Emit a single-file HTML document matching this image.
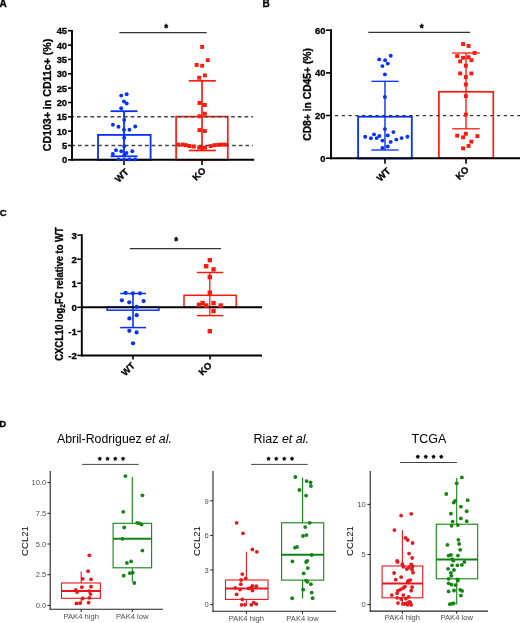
<!DOCTYPE html>
<html><head><meta charset="utf-8"><title>Figure</title>
<style>
html,body{margin:0;padding:0;background:#fff;}
body{width:520px;height:623px;overflow:hidden;}
svg{display:block;filter:blur(0.3px);font-family:"Liberation Sans",Arial,Helvetica,sans-serif;}
</style></head><body>
<svg width="520" height="623" viewBox="0 0 520 623">
<rect width="520" height="623" fill="#fff"/>
<text x="-0.6" y="7.2" font-size="10" text-anchor="start" font-weight="bold" fill="#000" stroke="#000" stroke-width="0.3">A</text>
<text x="262.5" y="7.2" font-size="10" text-anchor="start" font-weight="bold" fill="#000" stroke="#000" stroke-width="0.3">B</text>
<text x="-0.2" y="216.4" font-size="9.6" text-anchor="start" font-weight="bold" fill="#000" stroke="#000" stroke-width="0.3">C</text>
<text x="-0.7" y="426.5" font-size="9.6" text-anchor="start" font-weight="bold" fill="#000" stroke="#000" stroke-width="0.3">D</text>
<rect x="98" y="134.9" width="52.6" height="24.9" fill="none" stroke="#0530ff" stroke-width="1.8"/>
<rect x="176.1" y="116.6" width="51.7" height="43.2" fill="none" stroke="#ff1a0d" stroke-width="1.7"/>
<line x1="124" y1="111.2" x2="124" y2="156.3" stroke="#0530ff" stroke-width="1.8"/>
<line x1="110.6" y1="111.2" x2="137.5" y2="111.2" stroke="#0530ff" stroke-width="1.8"/>
<line x1="110.6" y1="156.3" x2="137.5" y2="156.3" stroke="#0530ff" stroke-width="1.8"/>
<line x1="202" y1="80.8" x2="202" y2="150.5" stroke="#ff1a0d" stroke-width="1.7"/>
<line x1="188.8" y1="80.8" x2="215.8" y2="80.8" stroke="#ff1a0d" stroke-width="1.7"/>
<line x1="188.8" y1="150.5" x2="215.8" y2="150.5" stroke="#ff1a0d" stroke-width="1.7"/>
<line x1="72.0" y1="116.7" x2="253" y2="116.7" stroke="#444" stroke-width="1.5" stroke-dasharray="3.7 3" stroke-dashoffset="1.7"/>
<line x1="72.0" y1="145.5" x2="253" y2="145.5" stroke="#444" stroke-width="1.5" stroke-dasharray="3.7 3" stroke-dashoffset="0.7"/>
<line x1="72.0" y1="30.0" x2="72.0" y2="160.84" stroke="#000" stroke-width="1.9"/>
<line x1="71.1" y1="159.84" x2="254.2" y2="159.84" stroke="#000" stroke-width="2"/>
<line x1="68" y1="159.8" x2="72.0" y2="159.8" stroke="#000" stroke-width="1.6"/>
<text x="67.1" y="163.20000000000002" font-size="9.4" text-anchor="end" font-weight="bold" fill="#000" stroke="#000" stroke-width="0.3">0</text>
<line x1="68" y1="145.5" x2="72.0" y2="145.5" stroke="#000" stroke-width="1.6"/>
<text x="67.1" y="148.9" font-size="9.4" text-anchor="end" font-weight="bold" fill="#000" stroke="#000" stroke-width="0.3">5</text>
<line x1="68" y1="131.2" x2="72.0" y2="131.2" stroke="#000" stroke-width="1.6"/>
<text x="67.1" y="134.6" font-size="9.4" text-anchor="end" font-weight="bold" fill="#000" stroke="#000" stroke-width="0.3">10</text>
<line x1="68" y1="116.8" x2="72.0" y2="116.8" stroke="#000" stroke-width="1.6"/>
<text x="67.1" y="120.2" font-size="9.4" text-anchor="end" font-weight="bold" fill="#000" stroke="#000" stroke-width="0.3">15</text>
<line x1="68" y1="102.5" x2="72.0" y2="102.5" stroke="#000" stroke-width="1.6"/>
<text x="67.1" y="105.9" font-size="9.4" text-anchor="end" font-weight="bold" fill="#000" stroke="#000" stroke-width="0.3">20</text>
<line x1="68" y1="88.1" x2="72.0" y2="88.1" stroke="#000" stroke-width="1.6"/>
<text x="67.1" y="91.5" font-size="9.4" text-anchor="end" font-weight="bold" fill="#000" stroke="#000" stroke-width="0.3">25</text>
<line x1="68" y1="73.8" x2="72.0" y2="73.8" stroke="#000" stroke-width="1.6"/>
<text x="67.1" y="77.2" font-size="9.4" text-anchor="end" font-weight="bold" fill="#000" stroke="#000" stroke-width="0.3">30</text>
<line x1="68" y1="59.4" x2="72.0" y2="59.4" stroke="#000" stroke-width="1.6"/>
<text x="67.1" y="62.8" font-size="9.4" text-anchor="end" font-weight="bold" fill="#000" stroke="#000" stroke-width="0.3">35</text>
<line x1="68" y1="45.1" x2="72.0" y2="45.1" stroke="#000" stroke-width="1.6"/>
<text x="67.1" y="48.5" font-size="9.4" text-anchor="end" font-weight="bold" fill="#000" stroke="#000" stroke-width="0.3">40</text>
<line x1="68" y1="30.7" x2="72.0" y2="30.7" stroke="#000" stroke-width="1.6"/>
<text x="67.1" y="34.1" font-size="9.4" text-anchor="end" font-weight="bold" fill="#000" stroke="#000" stroke-width="0.3">45</text>
<line x1="124" y1="159.84" x2="124" y2="164.9" stroke="#000" stroke-width="1.6"/>
<line x1="202" y1="159.84" x2="202" y2="164.9" stroke="#000" stroke-width="1.6"/>
<text x="129.3" y="172.6" font-size="9.5" text-anchor="end" font-weight="bold" fill="#000" stroke="#000" stroke-width="0.3" transform="rotate(-45 129.3 172.6)">WT</text>
<text x="206.4" y="171.2" font-size="9.5" text-anchor="end" font-weight="bold" fill="#000" stroke="#000" stroke-width="0.3" transform="rotate(-45 206.4 171.2)">KO</text>
<text x="51.0" y="95.0" font-size="10.6" text-anchor="middle" font-weight="bold" fill="#000" stroke="#000" stroke-width="0.3" transform="rotate(-90 51.0 95.0)">CD103+ in CD11c+ (%)</text>
<line x1="119.4" y1="32.6" x2="206.7" y2="32.6" stroke="#333" stroke-width="1.25"/>
<text x="166.2" y="32.0" font-size="10" text-anchor="middle" font-weight="bold" fill="#000" stroke="#000" stroke-width="0.4">*</text>
<rect x="358.1" y="116.7" width="53.7" height="41.8" fill="none" stroke="#0530ff" stroke-width="1.8"/>
<rect x="438.9" y="91.8" width="54.4" height="66.4" fill="none" stroke="#ff1a0d" stroke-width="1.7"/>
<line x1="385" y1="81.3" x2="385" y2="150" stroke="#0530ff" stroke-width="1.4"/>
<line x1="371.3" y1="81.3" x2="398.6" y2="81.3" stroke="#0530ff" stroke-width="1.3"/>
<line x1="371.3" y1="150" x2="398.6" y2="150" stroke="#0530ff" stroke-width="1.3"/>
<line x1="466" y1="53" x2="466" y2="128.8" stroke="#ff1a0d" stroke-width="1.4"/>
<line x1="452.2" y1="53" x2="479.8" y2="53" stroke="#ff1a0d" stroke-width="1.3"/>
<line x1="452.2" y1="128.8" x2="479.8" y2="128.8" stroke="#ff1a0d" stroke-width="1.3"/>
<line x1="331.0" y1="115.7" x2="520" y2="115.7" stroke="#333" stroke-width="1.3" stroke-dasharray="3.2 3.55" stroke-dashoffset="2.75"/>
<line x1="331.0" y1="29.3" x2="331.0" y2="159.2" stroke="#000" stroke-width="1.9"/>
<line x1="330.1" y1="158.2" x2="520" y2="158.2" stroke="#000" stroke-width="2"/>
<line x1="326" y1="158.2" x2="331.0" y2="158.2" stroke="#000" stroke-width="1.6"/>
<text x="325.4" y="161.6" font-size="9.4" text-anchor="end" font-weight="bold" fill="#000" stroke="#000" stroke-width="0.3">0</text>
<line x1="326" y1="115.5" x2="331.0" y2="115.5" stroke="#000" stroke-width="1.6"/>
<text x="325.4" y="118.9" font-size="9.4" text-anchor="end" font-weight="bold" fill="#000" stroke="#000" stroke-width="0.3">20</text>
<line x1="326" y1="72.9" x2="331.0" y2="72.9" stroke="#000" stroke-width="1.6"/>
<text x="325.4" y="76.30000000000001" font-size="9.4" text-anchor="end" font-weight="bold" fill="#000" stroke="#000" stroke-width="0.3">40</text>
<line x1="326" y1="30.2" x2="331.0" y2="30.2" stroke="#000" stroke-width="1.6"/>
<text x="325.4" y="33.6" font-size="9.4" text-anchor="end" font-weight="bold" fill="#000" stroke="#000" stroke-width="0.3">60</text>
<line x1="385" y1="158.2" x2="385" y2="163.8" stroke="#000" stroke-width="1.6"/>
<line x1="466" y1="158.2" x2="466" y2="163.8" stroke="#000" stroke-width="1.6"/>
<text x="391" y="171.6" font-size="9.5" text-anchor="end" font-weight="bold" fill="#000" stroke="#000" stroke-width="0.3" transform="rotate(-45 391 171.6)">WT</text>
<text x="469.6" y="170.4" font-size="9.5" text-anchor="end" font-weight="bold" fill="#000" stroke="#000" stroke-width="0.3" transform="rotate(-45 469.6 170.4)">KO</text>
<text x="311" y="94.4" font-size="10.3" text-anchor="middle" font-weight="bold" fill="#000" stroke="#000" stroke-width="0.3" transform="rotate(-90 311 94.4)">CD8+ in CD45+ (%)</text>
<line x1="368.3" y1="32.4" x2="470.2" y2="32.4" stroke="#333" stroke-width="1.25"/>
<text x="421.7" y="32.3" font-size="10" text-anchor="middle" font-weight="bold" fill="#000" stroke="#000" stroke-width="0.4">*</text>
<rect x="107.2" y="307.3" width="51.6" height="2.9" fill="none" stroke="#0530ff" stroke-width="1.5"/>
<rect x="184" y="295.3" width="52.2" height="12.0" fill="none" stroke="#ff1a0d" stroke-width="1.5"/>
<line x1="133" y1="293.5" x2="133" y2="327.6" stroke="#0530ff" stroke-width="1.6"/>
<line x1="120.2" y1="293.5" x2="146" y2="293.5" stroke="#0530ff" stroke-width="1.5"/>
<line x1="120.2" y1="327.6" x2="146" y2="327.6" stroke="#0530ff" stroke-width="1.5"/>
<line x1="209.8" y1="272.5" x2="209.8" y2="315.6" stroke="#ff1a0d" stroke-width="1.3"/>
<line x1="196.8" y1="272.5" x2="223.1" y2="272.5" stroke="#ff1a0d" stroke-width="1.5"/>
<line x1="196.8" y1="315.6" x2="223.1" y2="315.6" stroke="#ff1a0d" stroke-width="1.5"/>
<line x1="81.8" y1="234.2" x2="81.8" y2="356.40000000000003" stroke="#000" stroke-width="1.9"/>
<line x1="80.89999999999999" y1="307.3" x2="262" y2="307.3" stroke="#000" stroke-width="2"/>
<line x1="80.89999999999999" y1="355.4" x2="262" y2="355.4" stroke="#000" stroke-width="2"/>
<line x1="77.3" y1="235.2" x2="81.8" y2="235.2" stroke="#000" stroke-width="1.5"/>
<text x="76.9" y="238.6" font-size="9.7" text-anchor="end" font-weight="bold" fill="#000" stroke="#000" stroke-width="0.3">3</text>
<line x1="77.3" y1="259.2" x2="81.8" y2="259.2" stroke="#000" stroke-width="1.5"/>
<text x="76.9" y="262.59999999999997" font-size="9.7" text-anchor="end" font-weight="bold" fill="#000" stroke="#000" stroke-width="0.3">2</text>
<line x1="77.3" y1="283.2" x2="81.8" y2="283.2" stroke="#000" stroke-width="1.5"/>
<text x="76.9" y="286.59999999999997" font-size="9.7" text-anchor="end" font-weight="bold" fill="#000" stroke="#000" stroke-width="0.3">1</text>
<line x1="77.3" y1="307.3" x2="81.8" y2="307.3" stroke="#000" stroke-width="1.5"/>
<text x="76.9" y="310.7" font-size="9.7" text-anchor="end" font-weight="bold" fill="#000" stroke="#000" stroke-width="0.3">0</text>
<line x1="77.3" y1="331.4" x2="81.8" y2="331.4" stroke="#000" stroke-width="1.5"/>
<text x="76.9" y="334.79999999999995" font-size="9.7" text-anchor="end" font-weight="bold" fill="#000" stroke="#000" stroke-width="0.3">-1</text>
<line x1="77.3" y1="355.4" x2="81.8" y2="355.4" stroke="#000" stroke-width="1.5"/>
<text x="76.9" y="358.79999999999995" font-size="9.7" text-anchor="end" font-weight="bold" fill="#000" stroke="#000" stroke-width="0.3">-2</text>
<line x1="133" y1="355.40000000000003" x2="133" y2="359.5" stroke="#000" stroke-width="1.6"/>
<line x1="210" y1="355.40000000000003" x2="210" y2="359.5" stroke="#000" stroke-width="1.6"/>
<text x="135.6" y="366.2" font-size="9.3" text-anchor="end" font-weight="bold" fill="#000" stroke="#000" stroke-width="0.3" transform="rotate(-45 135.6 366.2)">WT</text>
<text x="212.6" y="366" font-size="9.5" text-anchor="end" font-weight="bold" fill="#000" stroke="#000" stroke-width="0.3" transform="rotate(-45 212.6 366)">KO</text>
<text x="62.6" y="294" font-size="10" text-anchor="middle" font-weight="bold" textLength="133.5" lengthAdjust="spacingAndGlyphs" stroke="#000" stroke-width="0.3" transform="rotate(-90 62.6 294)">CXCL10 log<tspan font-size="6.8" dy="2.5">2</tspan><tspan dy="-2.5">FC relative to WT</tspan></text>
<line x1="129.8" y1="248.6" x2="220.9" y2="248.6" stroke="#333" stroke-width="1.25"/>
<text x="176.1" y="244.8" font-size="10" text-anchor="middle" font-weight="bold" fill="#000" stroke="#000" stroke-width="0.4">*</text>
<text x="57" y="442.8" font-size="12.3" fill="#000">Abril-Rodriguez <tspan font-style="italic">et al.</tspan></text>
<line x1="82.2" y1="464.4" x2="138.6" y2="464.4" stroke="#444" stroke-width="1.0"/>
<text x="98.1" y="463.2" font-size="9.2" letter-spacing="4.12" fill="#000" stroke="#000" stroke-width="0.7" stroke-linejoin="round">****</text>
<line x1="81.2" y1="571.5" x2="81.2" y2="583" stroke="#e8171c" stroke-width="1.1"/>
<line x1="81.2" y1="598.3" x2="81.2" y2="603.5" stroke="#e8171c" stroke-width="1.1"/>
<rect x="61.5" y="583" width="38.9" height="15.3" fill="#fff" fill-opacity="0" stroke="#e8171c" stroke-width="1.1"/>
<line x1="61.5" y1="591.1" x2="100.4" y2="591.1" stroke="#e8171c" stroke-width="2.0"/>
<line x1="132.3" y1="476.9" x2="132.3" y2="523.3" stroke="#128412" stroke-width="1.1"/>
<line x1="132.3" y1="567.8" x2="132.3" y2="581.8" stroke="#128412" stroke-width="1.1"/>
<rect x="113.1" y="523.3" width="38.5" height="44.5" fill="#fff" fill-opacity="0" stroke="#128412" stroke-width="1.1"/>
<line x1="113.1" y1="538.8" x2="151.6" y2="538.8" stroke="#128412" stroke-width="2.0"/>
<line x1="50.2" y1="471.0" x2="50.2" y2="609.8" stroke="#222" stroke-width="1.1"/>
<line x1="49.7" y1="609.3" x2="163" y2="609.3" stroke="#222" stroke-width="1.1"/>
<line x1="47.400000000000006" y1="605.4" x2="50.2" y2="605.4" stroke="#222" stroke-width="1.0"/>
<text x="46.3" y="608.1" font-size="7.6" text-anchor="end" font-weight="normal" fill="#4d4d4d">0.0</text>
<line x1="47.400000000000006" y1="574.7" x2="50.2" y2="574.7" stroke="#222" stroke-width="1.0"/>
<text x="46.3" y="577.4000000000001" font-size="7.6" text-anchor="end" font-weight="normal" fill="#4d4d4d">2.5</text>
<line x1="47.400000000000006" y1="544.0" x2="50.2" y2="544.0" stroke="#222" stroke-width="1.0"/>
<text x="46.3" y="546.7" font-size="7.6" text-anchor="end" font-weight="normal" fill="#4d4d4d">5.0</text>
<line x1="47.400000000000006" y1="513.3" x2="50.2" y2="513.3" stroke="#222" stroke-width="1.0"/>
<text x="46.3" y="516.0" font-size="7.6" text-anchor="end" font-weight="normal" fill="#4d4d4d">7.5</text>
<line x1="47.400000000000006" y1="482.6" x2="50.2" y2="482.6" stroke="#222" stroke-width="1.0"/>
<text x="46.3" y="485.3" font-size="7.6" text-anchor="end" font-weight="normal" fill="#4d4d4d">10.0</text>
<line x1="81.2" y1="609.3" x2="81.2" y2="612.0" stroke="#222" stroke-width="1.0"/>
<line x1="132.3" y1="609.3" x2="132.3" y2="612.0" stroke="#222" stroke-width="1.0"/>
<text x="81.2" y="618.8" font-size="7.6" text-anchor="middle" fill="#4d4d4d">PAK4 high</text>
<text x="132.3" y="618.8" font-size="7.6" text-anchor="middle" fill="#4d4d4d">PAK4 low</text>
<text x="27.9" y="541" font-size="9.6" text-anchor="middle" fill="#000" transform="rotate(-90 27.9 541)">CCL21</text>
<text x="253.4" y="442.8" font-size="12.5" fill="#000">Riaz <tspan font-style="italic">et al.</tspan></text>
<line x1="251.1" y1="464.4" x2="307.7" y2="464.4" stroke="#444" stroke-width="1.0"/>
<text x="266.8" y="463.1" font-size="9.2" letter-spacing="4.25" fill="#000" stroke="#000" stroke-width="0.7" stroke-linejoin="round">****</text>
<line x1="246.4" y1="551.8" x2="246.4" y2="580" stroke="#e8171c" stroke-width="1.1"/>
<line x1="246.4" y1="599.4" x2="246.4" y2="604.5" stroke="#e8171c" stroke-width="1.1"/>
<rect x="225.5" y="580" width="42.5" height="19.4" fill="#fff" fill-opacity="0" stroke="#e8171c" stroke-width="1.1"/>
<line x1="225.5" y1="588.4" x2="268" y2="588.4" stroke="#e8171c" stroke-width="2.0"/>
<line x1="302.5" y1="477.5" x2="302.5" y2="522.8" stroke="#128412" stroke-width="1.1"/>
<line x1="302.5" y1="580.1" x2="302.5" y2="598.6" stroke="#128412" stroke-width="1.1"/>
<rect x="281.6" y="522.8" width="42.1" height="57.3" fill="#fff" fill-opacity="0" stroke="#128412" stroke-width="1.1"/>
<line x1="281.6" y1="554.8" x2="323.7" y2="554.8" stroke="#128412" stroke-width="2.0"/>
<line x1="213" y1="471.0" x2="213" y2="611.7" stroke="#222" stroke-width="1.1"/>
<line x1="212.5" y1="611.2" x2="336.2" y2="611.2" stroke="#222" stroke-width="1.1"/>
<line x1="210.2" y1="604.6" x2="213" y2="604.6" stroke="#222" stroke-width="1.0"/>
<text x="208.8" y="607.3000000000001" font-size="7.6" text-anchor="end" font-weight="normal" fill="#4d4d4d">0</text>
<line x1="210.2" y1="570.0" x2="213" y2="570.0" stroke="#222" stroke-width="1.0"/>
<text x="208.8" y="572.7" font-size="7.6" text-anchor="end" font-weight="normal" fill="#4d4d4d">3</text>
<line x1="210.2" y1="535.4" x2="213" y2="535.4" stroke="#222" stroke-width="1.0"/>
<text x="208.8" y="538.1" font-size="7.6" text-anchor="end" font-weight="normal" fill="#4d4d4d">6</text>
<line x1="210.2" y1="500.8" x2="213" y2="500.8" stroke="#222" stroke-width="1.0"/>
<text x="208.8" y="503.5" font-size="7.6" text-anchor="end" font-weight="normal" fill="#4d4d4d">9</text>
<line x1="246.4" y1="611.2" x2="246.4" y2="613.9000000000001" stroke="#222" stroke-width="1.0"/>
<line x1="302.5" y1="611.2" x2="302.5" y2="613.9000000000001" stroke="#222" stroke-width="1.0"/>
<text x="246.4" y="620.5" font-size="7.6" text-anchor="middle" fill="#4d4d4d">PAK4 high</text>
<text x="302.5" y="620.5" font-size="7.6" text-anchor="middle" fill="#4d4d4d">PAK4 low</text>
<text x="199.9" y="541" font-size="9.6" text-anchor="middle" fill="#000" transform="rotate(-90 199.9 541)">CCL21</text>
<text x="411.6" y="442.8" font-size="12.5" fill="#000">TCGA</text>
<line x1="400.1" y1="462.5" x2="456.9" y2="462.5" stroke="#444" stroke-width="1.0"/>
<text x="416.1" y="461.2" font-size="9.2" letter-spacing="4.25" fill="#000" stroke="#000" stroke-width="0.7" stroke-linejoin="round">****</text>
<line x1="402.4" y1="530.3" x2="402.4" y2="566" stroke="#e8171c" stroke-width="1.1"/>
<line x1="402.4" y1="597.8" x2="402.4" y2="604.5" stroke="#e8171c" stroke-width="1.1"/>
<rect x="382.1" y="566" width="40.6" height="31.8" fill="#fff" fill-opacity="0" stroke="#e8171c" stroke-width="1.1"/>
<line x1="382.1" y1="583.6" x2="422.7" y2="583.6" stroke="#e8171c" stroke-width="2.0"/>
<line x1="456.7" y1="478.1" x2="456.7" y2="524.2" stroke="#128412" stroke-width="1.1"/>
<line x1="456.7" y1="578.8" x2="456.7" y2="604.4" stroke="#128412" stroke-width="1.1"/>
<rect x="436.3" y="524.2" width="41.4" height="54.6" fill="#fff" fill-opacity="0" stroke="#128412" stroke-width="1.1"/>
<line x1="436.3" y1="559.5" x2="477.7" y2="559.5" stroke="#128412" stroke-width="2.0"/>
<line x1="370.2" y1="471.0" x2="370.2" y2="611.6" stroke="#222" stroke-width="1.1"/>
<line x1="369.7" y1="611.1" x2="488" y2="611.1" stroke="#222" stroke-width="1.1"/>
<line x1="367.4" y1="604.6" x2="370.2" y2="604.6" stroke="#222" stroke-width="1.0"/>
<text x="365.8" y="607.3000000000001" font-size="7.6" text-anchor="end" font-weight="normal" fill="#4d4d4d">0</text>
<line x1="367.4" y1="554.5" x2="370.2" y2="554.5" stroke="#222" stroke-width="1.0"/>
<text x="365.8" y="557.2" font-size="7.6" text-anchor="end" font-weight="normal" fill="#4d4d4d">5</text>
<line x1="367.4" y1="504.4" x2="370.2" y2="504.4" stroke="#222" stroke-width="1.0"/>
<text x="365.8" y="507.09999999999997" font-size="7.6" text-anchor="end" font-weight="normal" fill="#4d4d4d">10</text>
<line x1="402.4" y1="611.1" x2="402.4" y2="613.8000000000001" stroke="#222" stroke-width="1.0"/>
<line x1="456.7" y1="611.1" x2="456.7" y2="613.8000000000001" stroke="#222" stroke-width="1.0"/>
<text x="402.4" y="619.8" font-size="7.6" text-anchor="middle" fill="#4d4d4d">PAK4 high</text>
<text x="456.7" y="619.8" font-size="7.6" text-anchor="middle" fill="#4d4d4d">PAK4 low</text>
<text x="353.2" y="541" font-size="9.6" text-anchor="middle" fill="#000" transform="rotate(-90 353.2 541)">CCL21</text>
<circle cx="121.2" cy="95.6" r="1.95" fill="#0530ff"/>
<circle cx="126.7" cy="94.2" r="1.95" fill="#0530ff"/>
<circle cx="123.9" cy="101.5" r="1.95" fill="#0530ff"/>
<circle cx="126.7" cy="103.5" r="1.95" fill="#0530ff"/>
<circle cx="121.2" cy="108.3" r="1.95" fill="#0530ff"/>
<circle cx="124.2" cy="120.0" r="1.95" fill="#0530ff"/>
<circle cx="112.9" cy="124.8" r="1.95" fill="#0530ff"/>
<circle cx="118.5" cy="126.7" r="1.95" fill="#0530ff"/>
<circle cx="124.0" cy="129.8" r="1.95" fill="#0530ff"/>
<circle cx="129.4" cy="129.8" r="1.95" fill="#0530ff"/>
<circle cx="135.2" cy="126.5" r="1.95" fill="#0530ff"/>
<circle cx="124.2" cy="137.7" r="1.95" fill="#0530ff"/>
<circle cx="124.2" cy="146.3" r="1.95" fill="#0530ff"/>
<circle cx="116.0" cy="150.2" r="1.95" fill="#0530ff"/>
<circle cx="121.3" cy="151.2" r="1.95" fill="#0530ff"/>
<circle cx="126.5" cy="153.0" r="1.95" fill="#0530ff"/>
<circle cx="132.3" cy="151.2" r="1.95" fill="#0530ff"/>
<circle cx="112.9" cy="154.0" r="1.95" fill="#0530ff"/>
<circle cx="118.5" cy="159.4" r="1.95" fill="#0530ff"/>
<circle cx="124.2" cy="159.4" r="1.95" fill="#0530ff"/>
<circle cx="129.4" cy="159.4" r="1.95" fill="#0530ff"/>
<circle cx="135.2" cy="159.4" r="1.95" fill="#0530ff"/>
<circle cx="124.2" cy="155.0" r="1.95" fill="#0530ff"/>
<rect x="200.2" y="45.0" width="3.9" height="3.9" fill="#ff1a0d"/>
<rect x="205.8" y="58.2" width="3.9" height="3.9" fill="#ff1a0d"/>
<rect x="194.7" y="63.0" width="3.9" height="3.9" fill="#ff1a0d"/>
<rect x="200.2" y="63.8" width="3.9" height="3.9" fill="#ff1a0d"/>
<rect x="202.9" y="73.5" width="3.9" height="3.9" fill="#ff1a0d"/>
<rect x="197.2" y="75.8" width="3.9" height="3.9" fill="#ff1a0d"/>
<rect x="197.5" y="101.0" width="3.9" height="3.9" fill="#ff1a0d"/>
<rect x="202.9" y="103.0" width="3.9" height="3.9" fill="#ff1a0d"/>
<rect x="202.9" y="111.8" width="3.9" height="3.9" fill="#ff1a0d"/>
<rect x="197.5" y="114.3" width="3.9" height="3.9" fill="#ff1a0d"/>
<rect x="197.5" y="128.1" width="3.9" height="3.9" fill="#ff1a0d"/>
<rect x="202.9" y="129.1" width="3.9" height="3.9" fill="#ff1a0d"/>
<rect x="176.2" y="142.7" width="3.9" height="3.9" fill="#ff1a0d"/>
<rect x="180.6" y="142.7" width="3.9" height="3.9" fill="#ff1a0d"/>
<rect x="184.0" y="143.2" width="3.9" height="3.9" fill="#ff1a0d"/>
<rect x="187.5" y="144.1" width="3.9" height="3.9" fill="#ff1a0d"/>
<rect x="191.8" y="144.6" width="3.9" height="3.9" fill="#ff1a0d"/>
<rect x="197.2" y="145.7" width="3.9" height="3.9" fill="#ff1a0d"/>
<rect x="200.1" y="146.1" width="3.9" height="3.9" fill="#ff1a0d"/>
<rect x="203.1" y="145.7" width="3.9" height="3.9" fill="#ff1a0d"/>
<rect x="208.7" y="144.1" width="3.9" height="3.9" fill="#ff1a0d"/>
<rect x="212.5" y="143.2" width="3.9" height="3.9" fill="#ff1a0d"/>
<rect x="216.2" y="142.9" width="3.9" height="3.9" fill="#ff1a0d"/>
<rect x="219.3" y="142.7" width="3.9" height="3.9" fill="#ff1a0d"/>
<rect x="223.1" y="142.7" width="3.9" height="3.9" fill="#ff1a0d"/>
<circle cx="379.2" cy="59.4" r="1.95" fill="#0530ff"/>
<circle cx="385.1" cy="60.3" r="1.95" fill="#0530ff"/>
<circle cx="390.7" cy="55.7" r="1.95" fill="#0530ff"/>
<circle cx="382.4" cy="66.1" r="1.95" fill="#0530ff"/>
<circle cx="387.8" cy="63.6" r="1.95" fill="#0530ff"/>
<circle cx="384.9" cy="74.4" r="1.95" fill="#0530ff"/>
<circle cx="384.9" cy="97.0" r="1.95" fill="#0530ff"/>
<circle cx="384.9" cy="129.1" r="1.95" fill="#0530ff"/>
<circle cx="365.2" cy="136.7" r="1.95" fill="#0530ff"/>
<circle cx="370.9" cy="138.3" r="1.95" fill="#0530ff"/>
<circle cx="374.0" cy="134.4" r="1.95" fill="#0530ff"/>
<circle cx="376.7" cy="138.1" r="1.95" fill="#0530ff"/>
<circle cx="379.4" cy="136.0" r="1.95" fill="#0530ff"/>
<circle cx="382.4" cy="140.6" r="1.95" fill="#0530ff"/>
<circle cx="387.8" cy="135.4" r="1.95" fill="#0530ff"/>
<circle cx="393.4" cy="132.1" r="1.95" fill="#0530ff"/>
<circle cx="390.7" cy="141.9" r="1.95" fill="#0530ff"/>
<circle cx="396.3" cy="139.6" r="1.95" fill="#0530ff"/>
<circle cx="401.6" cy="138.1" r="1.95" fill="#0530ff"/>
<circle cx="407.4" cy="136.7" r="1.95" fill="#0530ff"/>
<circle cx="382.4" cy="147.9" r="1.95" fill="#0530ff"/>
<circle cx="387.8" cy="146.5" r="1.95" fill="#0530ff"/>
<rect x="461.1" y="42.1" width="3.9" height="3.9" fill="#ff1a0d"/>
<rect x="466.6" y="44.0" width="3.9" height="3.9" fill="#ff1a0d"/>
<rect x="472.6" y="51.0" width="3.9" height="3.9" fill="#ff1a0d"/>
<rect x="455.2" y="54.1" width="3.9" height="3.9" fill="#ff1a0d"/>
<rect x="461.1" y="55.8" width="3.9" height="3.9" fill="#ff1a0d"/>
<rect x="466.6" y="55.3" width="3.9" height="3.9" fill="#ff1a0d"/>
<rect x="458.2" y="59.4" width="3.9" height="3.9" fill="#ff1a0d"/>
<rect x="469.4" y="58.2" width="3.9" height="3.9" fill="#ff1a0d"/>
<rect x="463.9" y="63.8" width="3.9" height="3.9" fill="#ff1a0d"/>
<rect x="458.2" y="71.5" width="3.9" height="3.9" fill="#ff1a0d"/>
<rect x="469.4" y="71.5" width="3.9" height="3.9" fill="#ff1a0d"/>
<rect x="463.9" y="75.1" width="3.9" height="3.9" fill="#ff1a0d"/>
<rect x="463.9" y="82.5" width="3.9" height="3.9" fill="#ff1a0d"/>
<rect x="463.9" y="94.1" width="3.9" height="3.9" fill="#ff1a0d"/>
<rect x="463.9" y="112.6" width="3.9" height="3.9" fill="#ff1a0d"/>
<rect x="455.2" y="133.7" width="3.9" height="3.9" fill="#ff1a0d"/>
<rect x="461.1" y="135.4" width="3.9" height="3.9" fill="#ff1a0d"/>
<rect x="463.9" y="131.8" width="3.9" height="3.9" fill="#ff1a0d"/>
<rect x="475.4" y="134.2" width="3.9" height="3.9" fill="#ff1a0d"/>
<rect x="469.4" y="139.7" width="3.9" height="3.9" fill="#ff1a0d"/>
<rect x="466.6" y="144.0" width="3.9" height="3.9" fill="#ff1a0d"/>
<rect x="461.1" y="146.4" width="3.9" height="3.9" fill="#ff1a0d"/>
<circle cx="125.6" cy="292.8" r="2.1" fill="#0530ff"/>
<circle cx="132.9" cy="293.3" r="2.1" fill="#0530ff"/>
<circle cx="140.0" cy="293.3" r="2.1" fill="#0530ff"/>
<circle cx="121.9" cy="300.3" r="2.1" fill="#0530ff"/>
<circle cx="129.2" cy="302.3" r="2.1" fill="#0530ff"/>
<circle cx="143.6" cy="301.1" r="2.1" fill="#0530ff"/>
<circle cx="136.7" cy="306.9" r="2.1" fill="#0530ff"/>
<circle cx="129.4" cy="318.4" r="2.1" fill="#0530ff"/>
<circle cx="136.7" cy="315.2" r="2.1" fill="#0530ff"/>
<circle cx="129.3" cy="330.8" r="2.1" fill="#0530ff"/>
<circle cx="136.6" cy="332.4" r="2.1" fill="#0530ff"/>
<circle cx="133.0" cy="343.3" r="2.1" fill="#0530ff"/>
<rect x="207.6" y="258.0" width="4.4" height="4.4" fill="#ff1a0d"/>
<rect x="204.0" y="264.0" width="4.4" height="4.4" fill="#ff1a0d"/>
<rect x="211.3" y="267.2" width="4.4" height="4.4" fill="#ff1a0d"/>
<rect x="207.6" y="274.9" width="4.4" height="4.4" fill="#ff1a0d"/>
<rect x="207.6" y="290.5" width="4.4" height="4.4" fill="#ff1a0d"/>
<rect x="196.8" y="302.6" width="4.4" height="4.4" fill="#ff1a0d"/>
<rect x="200.4" y="300.9" width="4.4" height="4.4" fill="#ff1a0d"/>
<rect x="204.0" y="303.3" width="4.4" height="4.4" fill="#ff1a0d"/>
<rect x="211.3" y="300.9" width="4.4" height="4.4" fill="#ff1a0d"/>
<rect x="218.5" y="303.3" width="4.4" height="4.4" fill="#ff1a0d"/>
<rect x="211.3" y="308.8" width="4.4" height="4.4" fill="#ff1a0d"/>
<rect x="207.6" y="329.0" width="4.4" height="4.4" fill="#ff1a0d"/>
<circle cx="89.3" cy="555.3" r="1.9" fill="#e8171c"/>
<circle cx="88.1" cy="571.2" r="1.9" fill="#e8171c"/>
<circle cx="82.7" cy="578.8" r="1.9" fill="#e8171c"/>
<circle cx="91.0" cy="579.3" r="1.9" fill="#e8171c"/>
<circle cx="81.9" cy="587.2" r="1.9" fill="#e8171c"/>
<circle cx="91.0" cy="586.7" r="1.9" fill="#e8171c"/>
<circle cx="75.8" cy="589.9" r="1.9" fill="#e8171c"/>
<circle cx="77.0" cy="592.1" r="1.9" fill="#e8171c"/>
<circle cx="89.3" cy="591.1" r="1.9" fill="#e8171c"/>
<circle cx="90.5" cy="594.1" r="1.9" fill="#e8171c"/>
<circle cx="82.7" cy="598.5" r="1.9" fill="#e8171c"/>
<circle cx="89.3" cy="597.8" r="1.9" fill="#e8171c"/>
<circle cx="76.5" cy="603.4" r="1.9" fill="#e8171c"/>
<circle cx="80.0" cy="603.2" r="1.9" fill="#e8171c"/>
<circle cx="88.6" cy="602.7" r="1.9" fill="#e8171c"/>
<circle cx="125.4" cy="476.1" r="1.9" fill="#128412"/>
<circle cx="142.4" cy="495.3" r="1.9" fill="#128412"/>
<circle cx="123.2" cy="511.8" r="1.9" fill="#128412"/>
<circle cx="137.2" cy="522.8" r="1.9" fill="#128412"/>
<circle cx="139.2" cy="523.3" r="1.9" fill="#128412"/>
<circle cx="141.6" cy="524.5" r="1.9" fill="#128412"/>
<circle cx="124.2" cy="527.5" r="1.9" fill="#128412"/>
<circle cx="122.5" cy="538.8" r="1.9" fill="#128412"/>
<circle cx="142.4" cy="550.6" r="1.9" fill="#128412"/>
<circle cx="126.9" cy="562.9" r="1.9" fill="#128412"/>
<circle cx="131.1" cy="561.4" r="1.9" fill="#128412"/>
<circle cx="129.9" cy="573.2" r="1.9" fill="#128412"/>
<circle cx="132.8" cy="572.7" r="1.9" fill="#128412"/>
<circle cx="123.7" cy="575.7" r="1.9" fill="#128412"/>
<circle cx="134.3" cy="583.0" r="1.9" fill="#128412"/>
<circle cx="236.6" cy="522.8" r="1.9" fill="#e8171c"/>
<circle cx="243.0" cy="533.3" r="1.9" fill="#e8171c"/>
<circle cx="252.4" cy="549.5" r="1.9" fill="#e8171c"/>
<circle cx="256.8" cy="551.8" r="1.9" fill="#e8171c"/>
<circle cx="242.3" cy="574.1" r="1.9" fill="#e8171c"/>
<circle cx="241.1" cy="580.0" r="1.9" fill="#e8171c"/>
<circle cx="245.7" cy="578.3" r="1.9" fill="#e8171c"/>
<circle cx="240.8" cy="584.2" r="1.9" fill="#e8171c"/>
<circle cx="235.2" cy="587.9" r="1.9" fill="#e8171c"/>
<circle cx="240.0" cy="589.6" r="1.9" fill="#e8171c"/>
<circle cx="248.7" cy="588.4" r="1.9" fill="#e8171c"/>
<circle cx="251.3" cy="587.6" r="1.9" fill="#e8171c"/>
<circle cx="252.4" cy="585.9" r="1.9" fill="#e8171c"/>
<circle cx="256.3" cy="586.2" r="1.9" fill="#e8171c"/>
<circle cx="252.4" cy="590.6" r="1.9" fill="#e8171c"/>
<circle cx="236.6" cy="594.3" r="1.9" fill="#e8171c"/>
<circle cx="242.3" cy="599.4" r="1.9" fill="#e8171c"/>
<circle cx="241.6" cy="604.8" r="1.9" fill="#e8171c"/>
<circle cx="245.0" cy="604.8" r="1.9" fill="#e8171c"/>
<circle cx="251.3" cy="604.8" r="1.9" fill="#e8171c"/>
<circle cx="253.8" cy="602.7" r="1.9" fill="#e8171c"/>
<circle cx="256.3" cy="604.1" r="1.9" fill="#e8171c"/>
<circle cx="295.3" cy="477.0" r="1.9" fill="#128412"/>
<circle cx="306.6" cy="481.1" r="1.9" fill="#128412"/>
<circle cx="310.5" cy="482.3" r="1.9" fill="#128412"/>
<circle cx="310.9" cy="486.0" r="1.9" fill="#128412"/>
<circle cx="299.4" cy="490.0" r="1.9" fill="#128412"/>
<circle cx="306.1" cy="495.6" r="1.9" fill="#128412"/>
<circle cx="309.7" cy="522.8" r="1.9" fill="#128412"/>
<circle cx="305.2" cy="527.1" r="1.9" fill="#128412"/>
<circle cx="303.0" cy="536.0" r="1.9" fill="#128412"/>
<circle cx="306.4" cy="535.1" r="1.9" fill="#128412"/>
<circle cx="295.0" cy="547.6" r="1.9" fill="#128412"/>
<circle cx="297.0" cy="546.9" r="1.9" fill="#128412"/>
<circle cx="311.7" cy="555.0" r="1.9" fill="#128412"/>
<circle cx="292.4" cy="561.3" r="1.9" fill="#128412"/>
<circle cx="306.1" cy="562.0" r="1.9" fill="#128412"/>
<circle cx="307.3" cy="560.8" r="1.9" fill="#128412"/>
<circle cx="307.8" cy="568.1" r="1.9" fill="#128412"/>
<circle cx="303.7" cy="573.4" r="1.9" fill="#128412"/>
<circle cx="306.1" cy="580.6" r="1.9" fill="#128412"/>
<circle cx="307.3" cy="581.8" r="1.9" fill="#128412"/>
<circle cx="310.9" cy="584.2" r="1.9" fill="#128412"/>
<circle cx="303.2" cy="589.7" r="1.9" fill="#128412"/>
<circle cx="311.7" cy="592.6" r="1.9" fill="#128412"/>
<circle cx="292.2" cy="598.2" r="1.9" fill="#128412"/>
<circle cx="312.6" cy="598.2" r="1.9" fill="#128412"/>
<circle cx="401.1" cy="515.6" r="1.9" fill="#e8171c"/>
<circle cx="411.2" cy="513.8" r="1.9" fill="#e8171c"/>
<circle cx="394.4" cy="530.1" r="1.9" fill="#e8171c"/>
<circle cx="405.6" cy="538.0" r="1.9" fill="#e8171c"/>
<circle cx="407.7" cy="540.0" r="1.9" fill="#e8171c"/>
<circle cx="412.6" cy="543.0" r="1.9" fill="#e8171c"/>
<circle cx="409.1" cy="553.6" r="1.9" fill="#e8171c"/>
<circle cx="412.1" cy="558.0" r="1.9" fill="#e8171c"/>
<circle cx="397.1" cy="561.0" r="1.9" fill="#e8171c"/>
<circle cx="397.6" cy="561.9" r="1.9" fill="#e8171c"/>
<circle cx="402.4" cy="564.2" r="1.9" fill="#e8171c"/>
<circle cx="403.3" cy="566.8" r="1.9" fill="#e8171c"/>
<circle cx="411.2" cy="564.5" r="1.9" fill="#e8171c"/>
<circle cx="412.6" cy="566.5" r="1.9" fill="#e8171c"/>
<circle cx="406.8" cy="569.0" r="1.9" fill="#e8171c"/>
<circle cx="408.9" cy="567.7" r="1.9" fill="#e8171c"/>
<circle cx="412.1" cy="569.5" r="1.9" fill="#e8171c"/>
<circle cx="394.1" cy="573.0" r="1.9" fill="#e8171c"/>
<circle cx="413.0" cy="572.7" r="1.9" fill="#e8171c"/>
<circle cx="395.7" cy="579.7" r="1.9" fill="#e8171c"/>
<circle cx="401.1" cy="577.1" r="1.9" fill="#e8171c"/>
<circle cx="408.6" cy="580.6" r="1.9" fill="#e8171c"/>
<circle cx="410.3" cy="580.1" r="1.9" fill="#e8171c"/>
<circle cx="407.7" cy="581.9" r="1.9" fill="#e8171c"/>
<circle cx="405.0" cy="586.6" r="1.9" fill="#e8171c"/>
<circle cx="403.3" cy="588.0" r="1.9" fill="#e8171c"/>
<circle cx="400.6" cy="589.5" r="1.9" fill="#e8171c"/>
<circle cx="398.0" cy="590.7" r="1.9" fill="#e8171c"/>
<circle cx="412.1" cy="587.2" r="1.9" fill="#e8171c"/>
<circle cx="411.2" cy="590.7" r="1.9" fill="#e8171c"/>
<circle cx="397.1" cy="593.3" r="1.9" fill="#e8171c"/>
<circle cx="391.8" cy="595.1" r="1.9" fill="#e8171c"/>
<circle cx="403.3" cy="595.1" r="1.9" fill="#e8171c"/>
<circle cx="397.1" cy="597.8" r="1.9" fill="#e8171c"/>
<circle cx="401.1" cy="599.0" r="1.9" fill="#e8171c"/>
<circle cx="405.9" cy="598.6" r="1.9" fill="#e8171c"/>
<circle cx="408.6" cy="596.9" r="1.9" fill="#e8171c"/>
<circle cx="398.0" cy="603.1" r="1.9" fill="#e8171c"/>
<circle cx="402.9" cy="603.9" r="1.9" fill="#e8171c"/>
<circle cx="405.0" cy="603.9" r="1.9" fill="#e8171c"/>
<circle cx="406.8" cy="603.1" r="1.9" fill="#e8171c"/>
<circle cx="408.6" cy="603.1" r="1.9" fill="#e8171c"/>
<circle cx="410.3" cy="602.7" r="1.9" fill="#e8171c"/>
<circle cx="411.2" cy="604.8" r="1.9" fill="#e8171c"/>
<circle cx="407.7" cy="604.8" r="1.9" fill="#e8171c"/>
<circle cx="409.5" cy="601.8" r="1.9" fill="#e8171c"/>
<circle cx="461.9" cy="477.4" r="1.9" fill="#128412"/>
<circle cx="456.7" cy="483.3" r="1.9" fill="#128412"/>
<circle cx="446.3" cy="494.0" r="1.9" fill="#128412"/>
<circle cx="453.7" cy="502.6" r="1.9" fill="#128412"/>
<circle cx="455.1" cy="500.9" r="1.9" fill="#128412"/>
<circle cx="467.7" cy="500.2" r="1.9" fill="#128412"/>
<circle cx="460.9" cy="506.7" r="1.9" fill="#128412"/>
<circle cx="450.9" cy="513.7" r="1.9" fill="#128412"/>
<circle cx="466.7" cy="511.2" r="1.9" fill="#128412"/>
<circle cx="460.9" cy="518.4" r="1.9" fill="#128412"/>
<circle cx="452.6" cy="521.6" r="1.9" fill="#128412"/>
<circle cx="466.7" cy="521.2" r="1.9" fill="#128412"/>
<circle cx="451.6" cy="525.8" r="1.9" fill="#128412"/>
<circle cx="457.9" cy="525.1" r="1.9" fill="#128412"/>
<circle cx="458.4" cy="539.8" r="1.9" fill="#128412"/>
<circle cx="447.4" cy="544.9" r="1.9" fill="#128412"/>
<circle cx="459.1" cy="544.0" r="1.9" fill="#128412"/>
<circle cx="460.2" cy="549.8" r="1.9" fill="#128412"/>
<circle cx="448.6" cy="555.6" r="1.9" fill="#128412"/>
<circle cx="450.9" cy="554.9" r="1.9" fill="#128412"/>
<circle cx="457.9" cy="555.6" r="1.9" fill="#128412"/>
<circle cx="452.1" cy="559.1" r="1.9" fill="#128412"/>
<circle cx="453.3" cy="560.7" r="1.9" fill="#128412"/>
<circle cx="464.4" cy="561.9" r="1.9" fill="#128412"/>
<circle cx="452.1" cy="565.3" r="1.9" fill="#128412"/>
<circle cx="457.4" cy="565.3" r="1.9" fill="#128412"/>
<circle cx="461.9" cy="564.9" r="1.9" fill="#128412"/>
<circle cx="448.1" cy="568.8" r="1.9" fill="#128412"/>
<circle cx="454.0" cy="570.0" r="1.9" fill="#128412"/>
<circle cx="450.9" cy="573.0" r="1.9" fill="#128412"/>
<circle cx="451.4" cy="575.8" r="1.9" fill="#128412"/>
<circle cx="448.6" cy="578.8" r="1.9" fill="#128412"/>
<circle cx="457.4" cy="579.3" r="1.9" fill="#128412"/>
<circle cx="457.9" cy="580.5" r="1.9" fill="#128412"/>
<circle cx="448.6" cy="583.3" r="1.9" fill="#128412"/>
<circle cx="451.6" cy="584.7" r="1.9" fill="#128412"/>
<circle cx="455.6" cy="585.1" r="1.9" fill="#128412"/>
<circle cx="448.6" cy="591.4" r="1.9" fill="#128412"/>
<circle cx="454.0" cy="590.5" r="1.9" fill="#128412"/>
<circle cx="460.2" cy="589.8" r="1.9" fill="#128412"/>
<circle cx="462.1" cy="590.9" r="1.9" fill="#128412"/>
<circle cx="460.9" cy="595.6" r="1.9" fill="#128412"/>
<circle cx="449.8" cy="604.2" r="1.9" fill="#128412"/>
<circle cx="452.1" cy="603.7" r="1.9" fill="#128412"/>
<circle cx="453.7" cy="603.3" r="1.9" fill="#128412"/>
</svg>
</body></html>
